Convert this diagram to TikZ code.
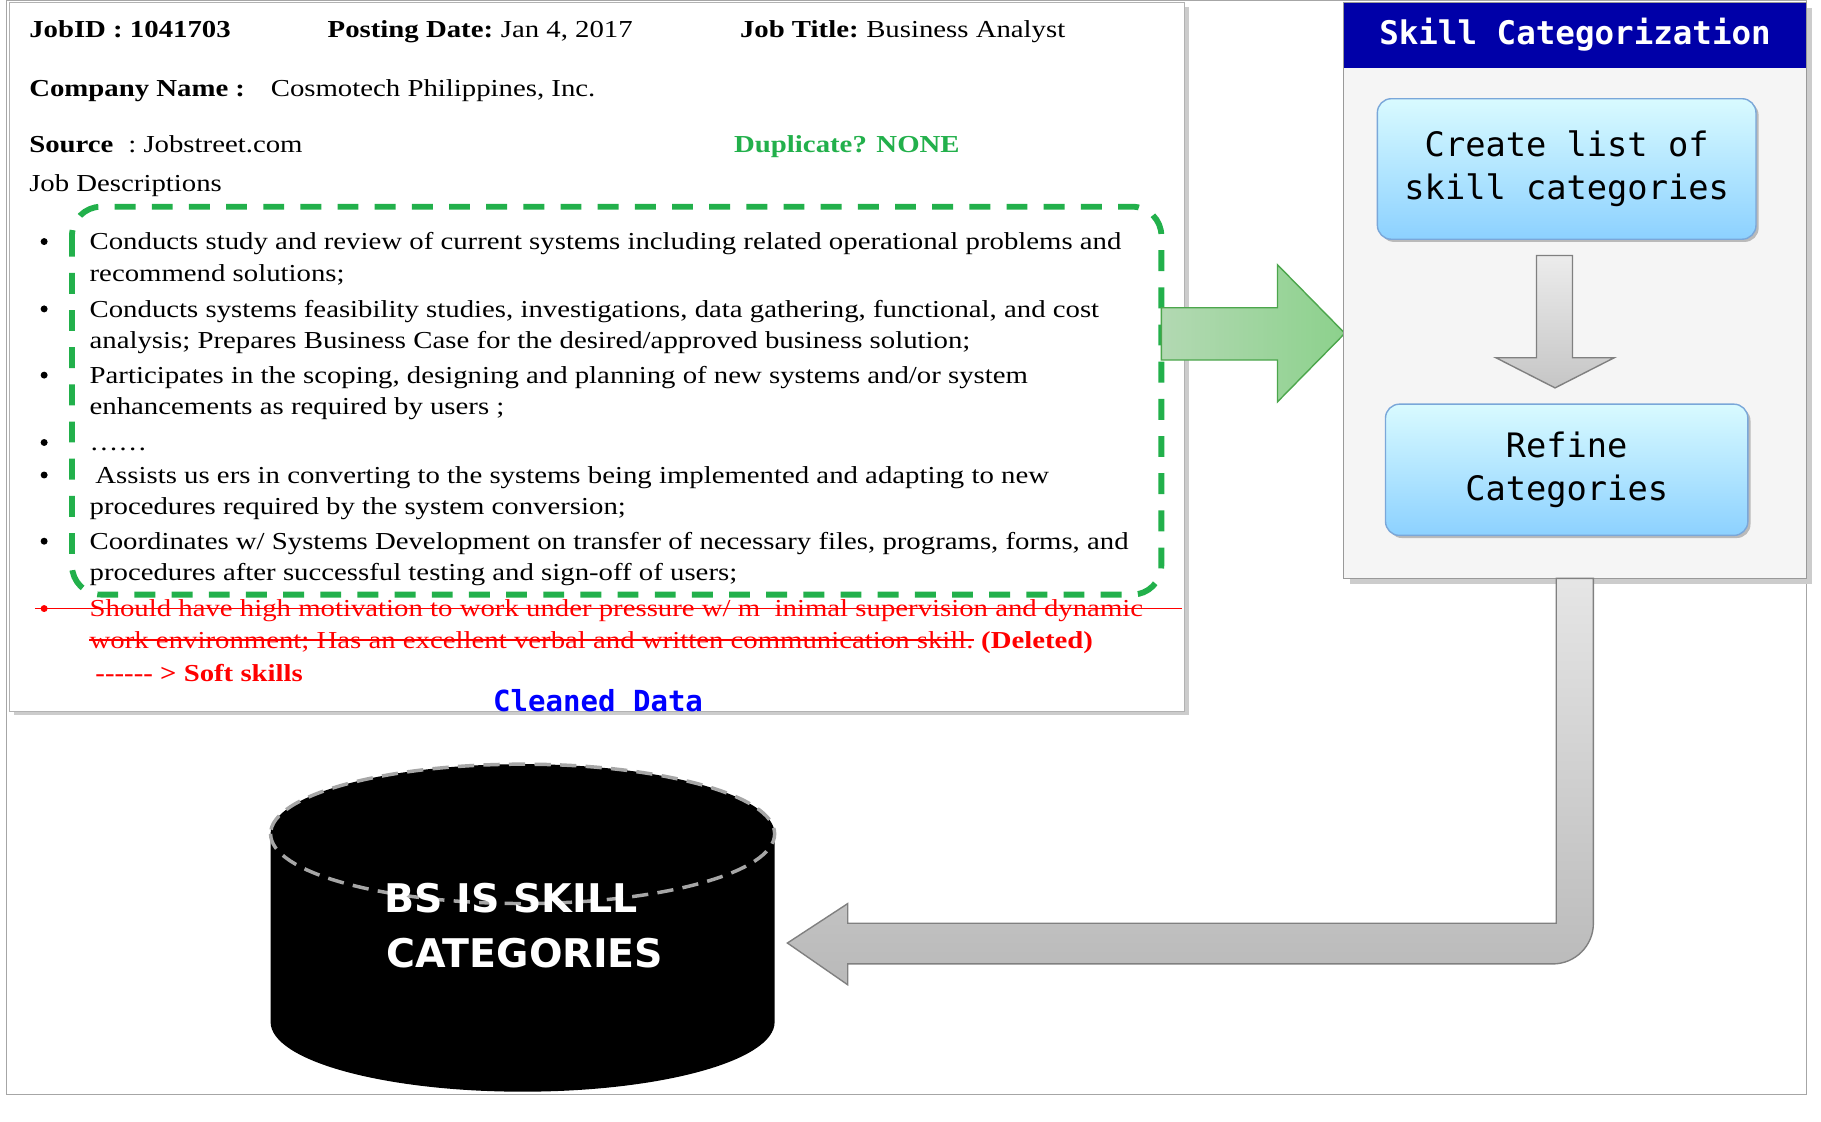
\documentclass[tikz,border=0pt]{standalone}
\usepackage{fontspec}
\setmainfont{Liberation Serif}[FakeStretch=1.18]
\newfontfamily\monof{DejaVu Sans Mono}
\newfontfamily\sansf{DejaVu Sans}
\usetikzlibrary{shadows}
\definecolor{dgreen}{HTML}{22B04B}
\definecolor{hblue}{HTML}{0000A8}
\definecolor{bbord}{HTML}{7AA7D9}
\tikzset{
  txt/.style={anchor=base west,inner sep=0pt,font=\fontsize{21}{26}\selectfont},
  bt/.style={txt,font=\fontsize{21}{26}\selectfont\bfseries},
  redt/.style={txt,text=red},
  bul/.style={circle,fill=black,inner sep=0pt,minimum size=6pt},
  bluebox/.style={draw=bbord,line width=1.2pt,rounded corners=12pt,top color=blue!12!cyan!15,bottom color=blue!40!cyan!45,align=center,font=\monof\fontsize{29}{37}\selectfont},
  grayarrow/.style={draw=gray,line width=1.2pt,top color=gray!15,bottom color=gray!45},
}
\begin{document}
\begin{tikzpicture}[x=1pt,y=-1pt]
\useasboundingbox (0,0) rectangle (1568,966);
\draw[gray!70,fill=white] (5,0) rectangle (1555,942);
% document
\fill[gray!40] (12,6) rectangle (1024,616);
\draw[gray!60,fill=white] (8,2) rectangle (1020,612);
\node[bt] (j1) at (25,32) {JobID : 1041703};
\node[bt] (p1) at (282,32) {Posting Date:};
\node[txt] (p2) at (p1.base east) {~Jan 4, 2017};
\node[bt] (t1) at (637,32) {Job Title:};
\node[txt] (t2) at (t1.base east) {~Business Analyst};
\node[bt] (c1) at (25,83) {Company Name :};
\node[txt] (c2) at (233,83) {Cosmotech Philippines, Inc.};
\node[bt] (s1) at (25,131) {Source};
\node[txt] (s2) at (s1.base east) {~~:~Jobstreet.com};
\node[bt,text=dgreen] (d1) at (632,131) {Duplicate? NONE};
\node[txt] (jd) at (25,165) {Job Descriptions};
\draw[dgreen,line width=5pt,dash pattern=on 18pt off 14pt,rounded corners=25pt] (62,178) rectangle (1000,512);
\foreach \y/\n in {208/a,266/b,323/c,381/d,409/e,466/f}{\node[bul] (b\n) at (38,\y) {};}
\node[txt] (l1) at (77,215) {Conducts study and review of current systems including related operational problems and};
\node[txt] (l2) at (77,242) {recommend solutions;};
\node[txt] (l3) at (77,273) {Conducts systems feasibility studies, investigations, data gathering, functional, and cost};
\node[txt] (l4) at (77,300) {analysis; Prepares Business Case for the desired/approved business solution;};
\node[txt] (l5) at (77,330) {Participates in the scoping, designing and planning of new systems and/or system};
\node[txt] (l6) at (77,357) {enhancements as required by users ;};
\node[txt] (l7) at (77,388) {……};
\node[txt] (l8) at (82,416) {Assists us ers in converting to the systems being implemented and adapting to new};
\node[txt] (l9) at (77,443) {procedures required by the system conversion;};
\node[txt] (l10) at (77,473) {Coordinates w/ Systems Development on transfer of necessary files, programs, forms, and};
\node[txt] (l11) at (77,500) {procedures after successful testing and sign-off of users;};
\node[bul,fill=red] (br) at (38,524) {};
\node[redt] (r1) at (77,531) {Should have high motivation to work under pressure w/ m~~inimal supervision and dynamic};
\node[redt] (r2) at (77,558) {work environment; Has an excellent verbal and written communication skill.};
\draw[red,line width=1.2pt] (30,524) -- (1018,524);
\draw[red,line width=1.2pt] (r2.west |- 0,551) -- (r2.east |- 0,551);
\node[bt,text=red] (r3) at (r2.base east) {~(Deleted)};
\node[bt,text=red] (r4) at (82,587) {-{}-{}-{}-{}-{}- > Soft skills};
\node[font=\monof\bfseries\fontsize{25}{30}\selectfont,text=blue,inner sep=0pt] (cd) at (515,603) {Cleaned Data};
% green arrow
\draw[green!50!black!70,line width=1.2pt,left color=green!50!black!30!white,right color=green!60!black!45!white]
 (1000,265) -- (1100,265) -- (1100,228) -- (1158,287) -- (1100,346) -- (1100,310) -- (1000,310) -- cycle;
% right panel
\fill[gray!40] (1162,7) rectangle (1560,503);
\draw[gray!80,fill=gray!8] (1157,2) rectangle (1555,498);
\node[fill=hblue,minimum width=398pt,minimum height=56pt,anchor=north west,inner sep=0pt,text=white,font=\monof\bfseries\fontsize{28}{30}\selectfont] (hd) at (1157,2) {Skill Categorization};
\node[bluebox,minimum width=326pt,minimum height=121pt,drop shadow] (bx1) at (1349,145.5) {Create list of\\skill categories};
\node[bluebox,minimum width=312pt,minimum height=113pt,drop shadow] (bx2) at (1349,404.5) {Refine\\Categories};
\draw[grayarrow] (1323,220) -- (1354,220) -- (1354,308) -- (1390,308) -- (1339,334) -- (1288,308) -- (1323,308) -- cycle;
% L arrow
\draw[grayarrow,top color=gray!20,bottom color=gray!55]
 (1340,498) -- (1372,498) -- (1372,795) arc[start angle=0,end angle=90,radius=35] -- (730,830) -- (730,848) -- (678,812) -- (730,778) -- (730,795) -- (1340,795) -- cycle;
% cylinder
\fill[black] (233,718) -- (233,880) arc[start angle=180,end angle=0,x radius=217,y radius=60] -- (667,718) arc[start angle=0,end angle=-180,x radius=217,y radius=60] -- cycle;
\draw[gray!70,line width=3pt,dash pattern=on 14pt off 8pt] (233,718) arc[start angle=180,end angle=-180,x radius=217,y radius=60];
\node[text=white,align=center,font=\sansf\bfseries\fontsize{34}{47}\selectfont] (cyl) at (440,797) {BS IS SKILL\\~~CATEGORIES};
\end{tikzpicture}
\end{document}
